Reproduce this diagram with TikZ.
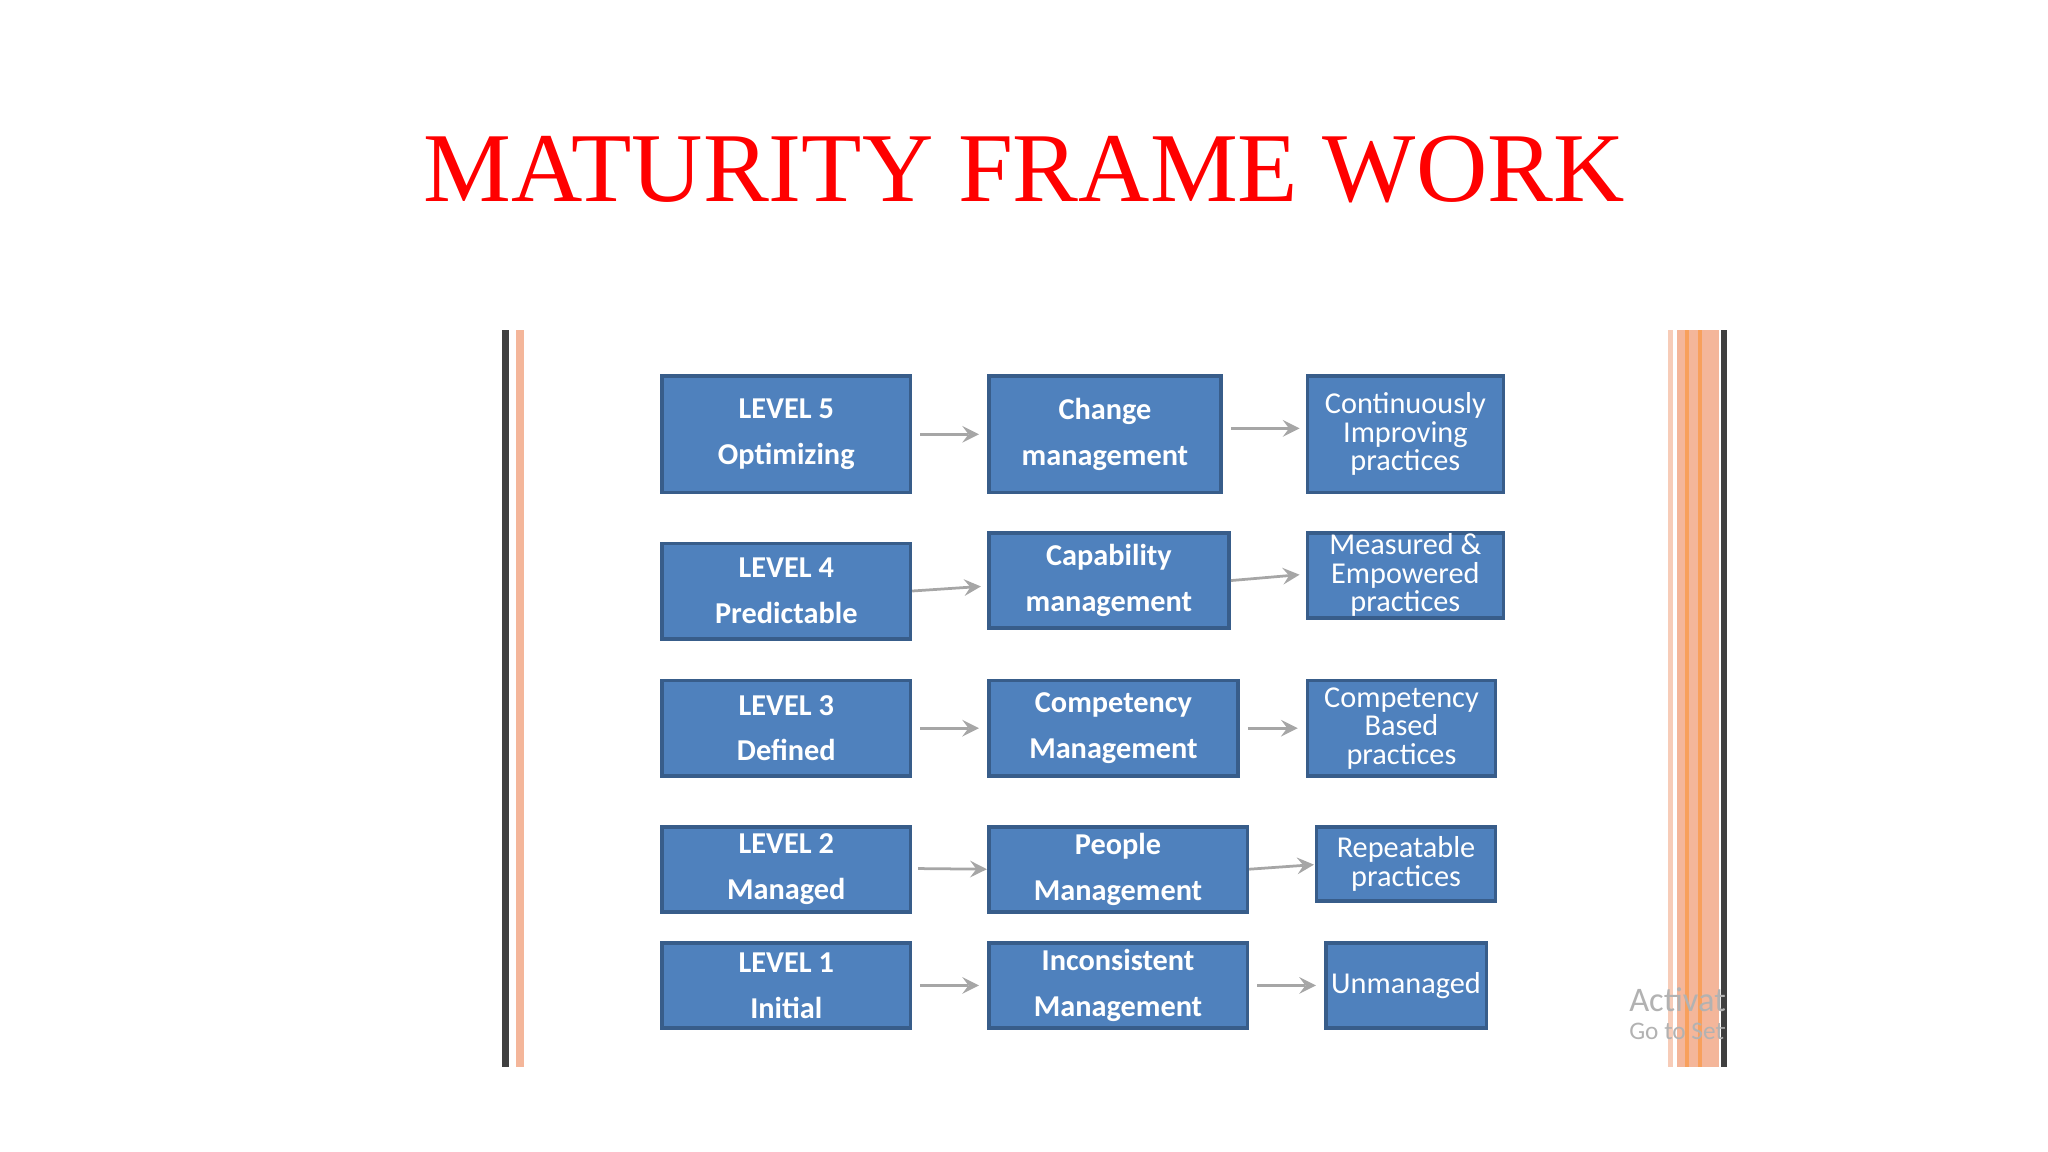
\documentclass[tikz,border=0pt]{standalone}
\usepackage{fontspec}
\setmainfont{Liberation Serif}
\newfontfamily\boxfont{Carlito}
\definecolor{boxblue}{HTML}{4F81BD}
\definecolor{boxedge}{HTML}{385D8A}
\definecolor{barorange}{HTML}{F4B69A}
\definecolor{bardark}{HTML}{404040}
\begin{document}
\begin{tikzpicture}[x=0.01cm,y=-0.01cm,
  lvl/.style={draw=boxedge,line width=0.8pt,fill=boxblue,text=white,font=\boxfont\bfseries\fontsize{6.6}{10}\selectfont,align=center,inner sep=0pt},
  res/.style={draw=boxedge,line width=0.8pt,fill=boxblue,text=white,font=\boxfont\fontsize{6.6}{6.2}\selectfont,align=center,inner sep=0pt},
  conn/.style={draw=gray!70,line width=0.6pt,->,>=stealth}]
\useasboundingbox (0,0) rectangle (1568,882);
\node[text=red,font=\fontsize{21.5}{26}\selectfont] (title) at (784,130) {MATURITY FRAME WORK};
% bars
\fill[bardark] (384,253) rectangle (390,817);
\fill[barorange] (395,253) rectangle (401,817);
\fill[barorange!70] (1277,253) rectangle (1281,817);
\fill[barorange] (1284,253) rectangle (1316,817);
\fill[barorange!60!orange] (1290,253) rectangle (1293,817);
\fill[barorange!60!orange] (1300,253) rectangle (1303,817);
\fill[bardark] (1318,253) rectangle (1322,817);
\newcommand{\bx}[7]{\node[#1,minimum width={(#4-#3)*0.01cm},minimum height={(#6-#5)*0.01cm}] (#2) at ({(#3+#4)/2},{(#5+#6)/2}) {#7};}
\bx{lvl}{l5}{507}{697}{288}{377}{LEVEL 5\\Optimizing}
\bx{lvl}{l4}{507}{697}{416}{489}{LEVEL 4\\Predictable}
\bx{lvl}{l3}{507}{697}{521}{594}{LEVEL 3\\Defined}
\bx{lvl}{l2}{507}{697}{633}{698}{LEVEL 2\\Managed}
\bx{lvl}{l1}{507}{697}{722}{787}{LEVEL 1\\Initial}
\bx{lvl}{m5}{757}{935}{288}{377}{Change\\management}
\bx{lvl}{m4}{757}{941}{408}{481}{Capability\\management}
\bx{lvl}{m3}{757}{948}{521}{594}{Competency\\Management}
\bx{lvl}{m2}{757}{955}{633}{698}{People\\Management}
\bx{lvl}{m1}{757}{955}{722}{787}{Inconsistent\\Management}
\bx{res}{r5}{1001}{1151}{288}{377}{Continuously\\Improving\\practices}
\bx{res}{r4}{1001}{1151}{408}{473}{Measured \&\\Empowered\\practices}
\bx{res}{r3}{1001}{1145}{521}{594}{Competency\\Based\\practices}
\bx{res}{r2}{1008}{1145}{633}{690}{Repeatable\\practices}
\bx{res}{r1}{1015}{1138}{722}{787}{Unmanaged}
\draw[conn] ([xshift=0.06cm]l5.east) -- ([xshift=-0.06cm]l5.east -| m5.west);
\draw[conn] ([xshift=0.06cm]m5.east |- 0,328) -- (995,328);
\draw[conn] (l4.east) -- (751,449);
\draw[conn] (m4.east) -- (995,440);
\draw[conn] ([xshift=0.06cm]l3.east) -- ([xshift=-0.06cm]l3.east -| m3.west);
\draw[conn] ([xshift=0.06cm]m3.east) -- ([xshift=-0.06cm]m3.east -| r3.west);
\draw[conn] (703,665) -- (m2.west);
\draw[conn] (m2.east) -- (1006,662);
\draw[conn] ([xshift=0.06cm]l1.east) -- ([xshift=-0.06cm]l1.east -| m1.west);
\draw[conn] ([xshift=0.06cm]m1.east) -- ([xshift=-0.06cm]m1.east -| r1.west);
\begin{scope}
\clip (1230,740) rectangle (1320,810);
\node[anchor=west,text=gray!60,font=\boxfont\fontsize{7.5}{8}\selectfont] (wm1) at (1235,765) {Activate Windows};
\node[anchor=west,text=gray!60,font=\boxfont\fontsize{5.5}{6}\selectfont] (wm2) at (1235,791) {Go to Settings};
\end{scope}
\end{tikzpicture}
\end{document}
